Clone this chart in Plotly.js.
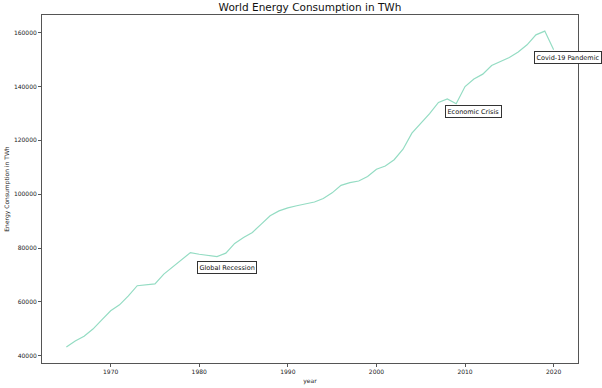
<!DOCTYPE html>
<html>
<head>
<meta charset="utf-8">
<script src="https://cdn.plot.ly/plotly-3.0.1.min.js"></script>
<style>html,body{margin:0;padding:0;background:#fff;}#chart{width:602px;height:388px;}</style>
</head>
<body>
<div id="chart"></div>
<script>
const years = [1965,1966,1967,1968,1969,1970,1971,1972,1973,1974,1975,1976,1977,1978,1979,
  1980,1981,1982,1983,1984,1985,1986,1987,1988,1989,1990,1991,1992,1993,1994,1995,1996,1997,1998,1999,
  2000,2001,2002,2003,2004,2005,2006,2007,2008,2009,2010,2011,2012,2013,2014,2015,2016,2017,2018,2019,2020];
const consumption = [43200,45500,47200,49900,53300,56700,58900,62200,66000,66400,66700,70300,72900,75500,78300,
  77700,77300,76800,78100,81700,83900,85800,88900,92000,93800,94900,95700,96300,97100,98400,100500,103300,104300,104900,106600,
  109300,110500,112800,116700,122700,126400,129900,134100,135400,133600,140000,142800,144600,147800,149300,150800,152800,155500,159200,160600,153700];
const noteLabels = ["Global Recession","Economic Crisis","Covid-19 Pandemic"];
const noteYears = [1980,2008,2018];
const noteValues = [72700,130700,150800];
const xTicks = [1970,1980,1990,2000,2010,2020];
const yTicks = [40000,60000,80000,100000,120000,140000,160000];

const FONT = "DejaVu Sans, sans-serif";
const trace = {
  x: years, y: consumption, type: "scatter", mode: "lines",
  line: {color: "#94dcc3", width: 1.2}, hoverinfo: "x+y", showlegend: false
};
const annotations = noteLabels.map((t, i) => ({
  x: noteYears[i], y: noteValues[i], xref: "x", yref: "y", text: t,
  showarrow: false, xanchor: "left", yanchor: "middle", xshift: -2,
  font: {family: FONT, size: 6.5, color: "#111"},
  bgcolor: "#ffffff", bordercolor: "#333333", borderwidth: 1, borderpad: 1.5
}));
const axisCommon = {
  showgrid: false, zeroline: false, showline: true, mirror: true,
  linecolor: "#555", linewidth: 1, ticks: "outside", ticklen: 3, tickwidth: 1, tickcolor: "#555",
  tickfont: {family: FONT, size: 6, color: "#222"}, automargin: false
};
const layout = {
  width: 602, height: 388,
  margin: {l: 42, r: 24, t: 15, b: 25, pad: 0},
  paper_bgcolor: "#fff", plot_bgcolor: "#fff",
  title: {text: "World Energy Consumption in TWh", font: {family: FONT, size: 10.5, color: "#111"},
          x: 0.5, xref: "paper", y: 1 - 7.5/388, yref: "container", yanchor: "middle"},
  xaxis: Object.assign({}, axisCommon, {
    range: [1962.25, 2022.75], tickvals: xTicks, ticktext: xTicks.map(String),
    title: {text: "year", font: {family: FONT, size: 6, color: "#222"}, standoff: 4}
  }),
  yaxis: Object.assign({}, axisCommon, {
    range: [37288, 166575], tickvals: yTicks, ticktext: yTicks.map(String),
    title: {text: "Energy Consumption in TWh", font: {family: FONT, size: 6, color: "#222"}, standoff: 3}
  }),
  annotations: annotations,
  showlegend: false
};
Plotly.newPlot("chart", [trace], layout, {displayModeBar: false, staticPlot: true});
</script>
</body>
</html>
